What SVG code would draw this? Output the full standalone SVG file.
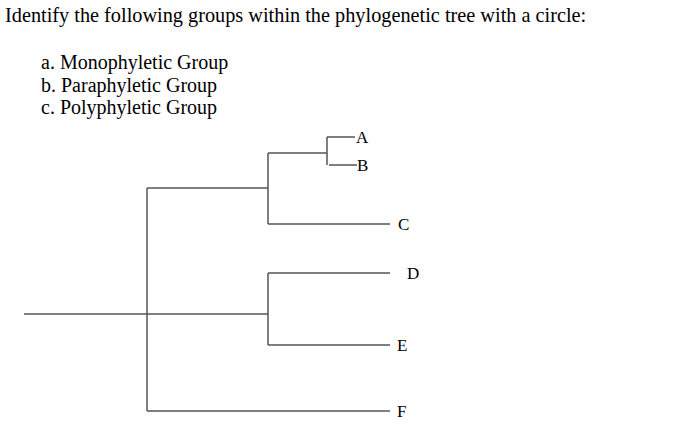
<svg xmlns="http://www.w3.org/2000/svg" width="700" height="436" viewBox="0 0 700 436">
<style>
text{font-family:"Liberation Serif",serif;fill:#000}
.h{font-size:20.3px}.l{font-size:20px}.t{font-size:17px}
line{stroke:#555;stroke-width:1.5}
</style>
<rect width="700" height="436" fill="#fff"/>
<text class="h" x="5" y="22">Identify the following groups within the phylogenetic tree with a circle:</text>
<text class="l" x="41" y="69">a. Monophyletic Group</text>
<text class="l" x="41" y="92">b. Paraphyletic Group</text>
<text class="l" x="41" y="114">c. Polyphyletic Group</text>
<g id="connectors">
<line x1="24" y1="314" x2="268" y2="314"/>
<line x1="147" y1="188" x2="147" y2="411"/>
<line x1="147" y1="188" x2="268" y2="188"/>
<line x1="268" y1="153" x2="268" y2="224"/>
<line x1="268" y1="153" x2="327" y2="153"/>
<line x1="327" y1="137" x2="327" y2="165"/>
<line x1="327" y1="137" x2="355" y2="137"/>
<line x1="329" y1="165" x2="357" y2="165"/>
<line x1="268" y1="224" x2="390" y2="224"/>
<line x1="268" y1="273" x2="268" y2="345"/>
<line x1="268" y1="273" x2="390" y2="273"/>
<line x1="268" y1="345" x2="390" y2="345"/>
<line x1="147" y1="411" x2="390" y2="411"/>
</g>
<g id="A"><text class="t" x="356" y="143">A</text></g>
<g id="B"><text class="t" x="357" y="171">B</text></g>
<g id="C"><text class="t" x="398" y="230">C</text></g>
<g id="D"><text class="t" x="407" y="279">D</text></g>
<g id="E"><text class="t" x="397" y="351">E</text></g>
<g id="F"><text class="t" x="397" y="417">F</text></g>
</svg>
